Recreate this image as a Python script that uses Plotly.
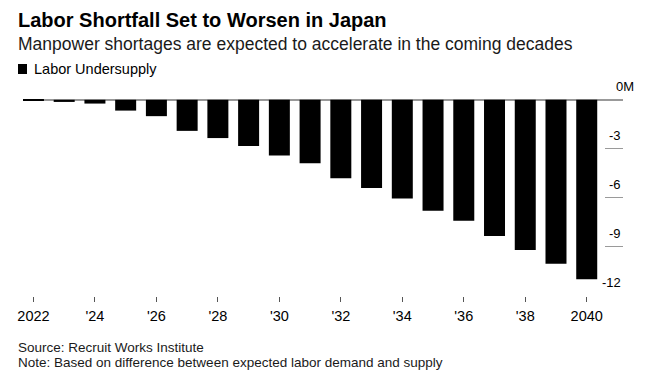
import plotly.graph_objects as go

years = list(range(2022, 2041))
undersupply = [-0.05, -0.13, -0.23, -0.66, -1.0, -1.9, -2.34, -2.83, -3.41, -3.88,
               -4.8, -5.39, -6.04, -6.78, -7.39, -8.33, -9.19, -10.02, -10.98]
x_tickvals = [2022, 2024, 2026, 2028, 2030, 2032, 2034, 2036, 2038, 2040]
x_ticktext = ["2022", "'24", "'26", "'28", "'30", "'32", "'34", "'36", "'38", "2040"]
y_tickvals = [0, -3, -6, -9, -12]
y_ticktext = ["0M", "-3", "-6", "-9", "-12"]

title = "<b>Labor Shortfall Set to Worsen in Japan</b>"
subtitle = "Manpower shortages are expected to accelerate in the coming decades"
source = "Source: Recruit Works Institute"
note = "Note: Based on difference between expected labor demand and supply"
series_name = "Labor Undersupply"

OFF = 8  # default page body margin
W, H = 644, 371
L, R, T, B = 15, 29, 82, 83
PW, PH = W - L - R, H - T - B
FONT = "Liberation Sans, Arial, sans-serif"

def px_x(x):  # page px -> paper x
    return (x - OFF - L) / PW

def px_y(y):  # page px -> paper y
    return (OFF + H - B - y) / PH

fig = go.Figure()
fig.add_trace(go.Bar(x=years, y=undersupply, name=series_name,
                     marker=dict(color="#000000", line=dict(width=0)),
                     showlegend=False))

fig.update_layout(
    width=W, height=H,
    margin=dict(l=L, r=R, t=T, b=B, autoexpand=False),
    paper_bgcolor="white", plot_bgcolor="white",
    bargap=0.317,
    font=dict(family=FONT, color="#000000"),
    showlegend=False,
    xaxis=dict(range=[2021.66, 2041.18], tickvals=x_tickvals, ticktext=x_ticktext,
               ticks="outside", ticklen=5, tickcolor="#555555", tickwidth=1,
               ticklabelstandoff=2,
               showline=False, showgrid=False, zeroline=False,
               tickfont=dict(size=14.5, color="#000000")),
    yaxis=dict(range=[-12, 0.6], side="right", tickvals=y_tickvals,
               ticks="inside", ticklen=18, tickcolor="#9a9a9a", tickwidth=1,
               showticklabels=False,
               showline=False, showgrid=False,
               zeroline=True, zerolinecolor="#999999", zerolinewidth=1.5),
)

# y tick labels sit above their tick marks
for v, t in zip(y_tickvals, y_ticktext):
    fig.add_annotation(xref="paper", yref="y", x=px_x(636 if t.endswith("M") else 623), y=v,
                       text=t, xanchor="right", yanchor="middle", yshift=13.5,
                       showarrow=False, font=dict(size=13, color="#000000"))

# legend swatch + label
fig.add_shape(type="rect", xref="paper", yref="paper",
              x0=px_x(18), x1=px_x(27), y0=px_y(74), y1=px_y(64),
              fillcolor="#000000", line=dict(width=0))

ann = [
    dict(text=title, x=px_x(16), y=px_y(19.5), font=dict(size=20, color="#000000")),
    dict(text=subtitle, x=px_x(16), y=px_y(44), font=dict(size=17.5, color="#1a1a1a")),
    dict(text=series_name, x=px_x(32), y=px_y(69.5), font=dict(size=14.5, color="#000000")),
    dict(text=source, x=px_x(16), y=px_y(347.5), font=dict(size=13.5, color="#1a1a1a")),
    dict(text=note, x=px_x(16), y=px_y(362.5), font=dict(size=13.5, color="#1a1a1a")),
]
for a in ann:
    fig.add_annotation(xref="paper", yref="paper", xanchor="left", yanchor="middle",
                       showarrow=False, align="left", **a)

fig.write_html("out.html")
